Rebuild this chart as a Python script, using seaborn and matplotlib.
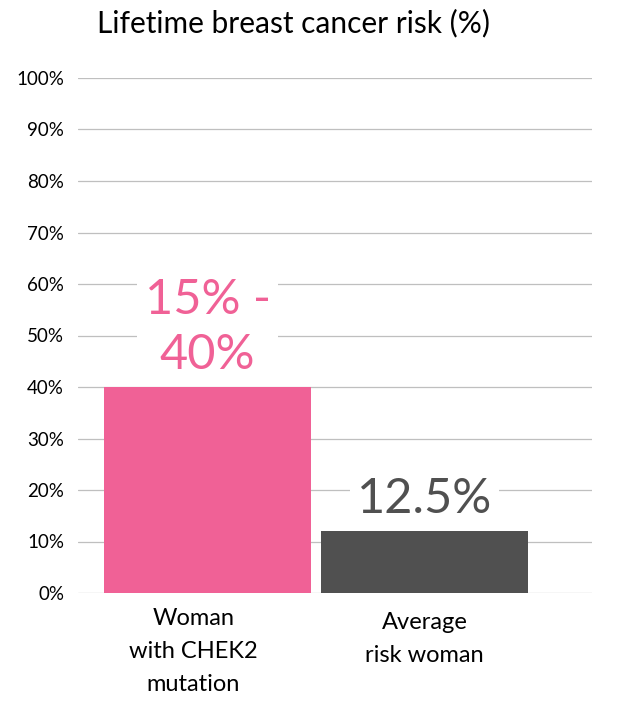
import matplotlib
matplotlib.use('Agg')
from matplotlib import pyplot as plt
from matplotlib.transforms import ScaledTranslation
import seaborn as sns
import pandas as pd

categories = ['Woman\nwith CHEK2\nmutation', 'Average\nrisk woman']
risk = [40, 12]
value_labels = ['15% -\n40%', '12.5%']
bar_colors = ['#F06196', '#505050']
text_colors = ['#F06196', '#505050']
y_ticks = [0, 10, 20, 30, 40, 50, 60, 70, 80, 90, 100]

sns.set_style('white')
plt.rcParams['font.family'] = ['Lato', 'DejaVu Sans']

df = pd.DataFrame({'group': categories, 'risk': risk})

fig = plt.figure(figsize=(6.23, 7.11), dpi=100)
ax = fig.add_axes([78 / 623, 1 - 593 / 711, 514 / 623, 515 / 711])

sns.barplot(data=df, x='group', y='risk', hue='group', palette=bar_colors,
            order=categories, hue_order=categories, width=0.954,
            saturation=1, legend=False, ax=ax, zorder=3,
            linewidth=0, edgecolor='none')

ax.set_xlim(-0.597, 1.772)
ax.set_ylim(0, 100)
ax.set_yticks(y_ticks)
ax.set_yticklabels([f'{t}%' for t in y_ticks], fontsize=13.5, color='black')
ax.yaxis.grid(True, color='#BFBFBF', linewidth=0.9, zorder=0)
ax.set_axisbelow(True)
ax.tick_params(axis='y', length=0, pad=10)
ax.tick_params(axis='x', length=0, pad=11)
ax.set_xticks(range(len(categories)))
ax.set_xticklabels(categories, fontsize=17, linespacing=1.7, color='black', va='top')
for s in ax.spines.values():
    s.set_visible(False)
ax.set_xlabel('')
ax.set_ylabel('')

# first category label sits a little left of its bar, second a bit lower
lbls = ax.get_xticklabels()
lbls[0].set_transform(lbls[0].get_transform() + ScaledTranslation(-0.14, 0, fig.dpi_scale_trans))
lbls[1].set_transform(lbls[1].get_transform() + ScaledTranslation(0, -0.04, fig.dpi_scale_trans))

for i, (v, txt) in enumerate(zip(risk, value_labels)):
    ax.annotate(txt, xy=(i, v), xytext=(0, 7), textcoords='offset points',
                ha='center', va='bottom', fontsize=35, color=text_colors[i],
                linespacing=1.3, zorder=4,
                bbox=dict(boxstyle='square,pad=0.15', fc='white', ec='none'))

fig.text(97 / 623, 1 - 32 / 711, 'Lifetime breast cancer risk (%)',
         fontsize=21.5, color='black', ha='left', va='baseline')

fig.savefig('out.png', dpi=100)
